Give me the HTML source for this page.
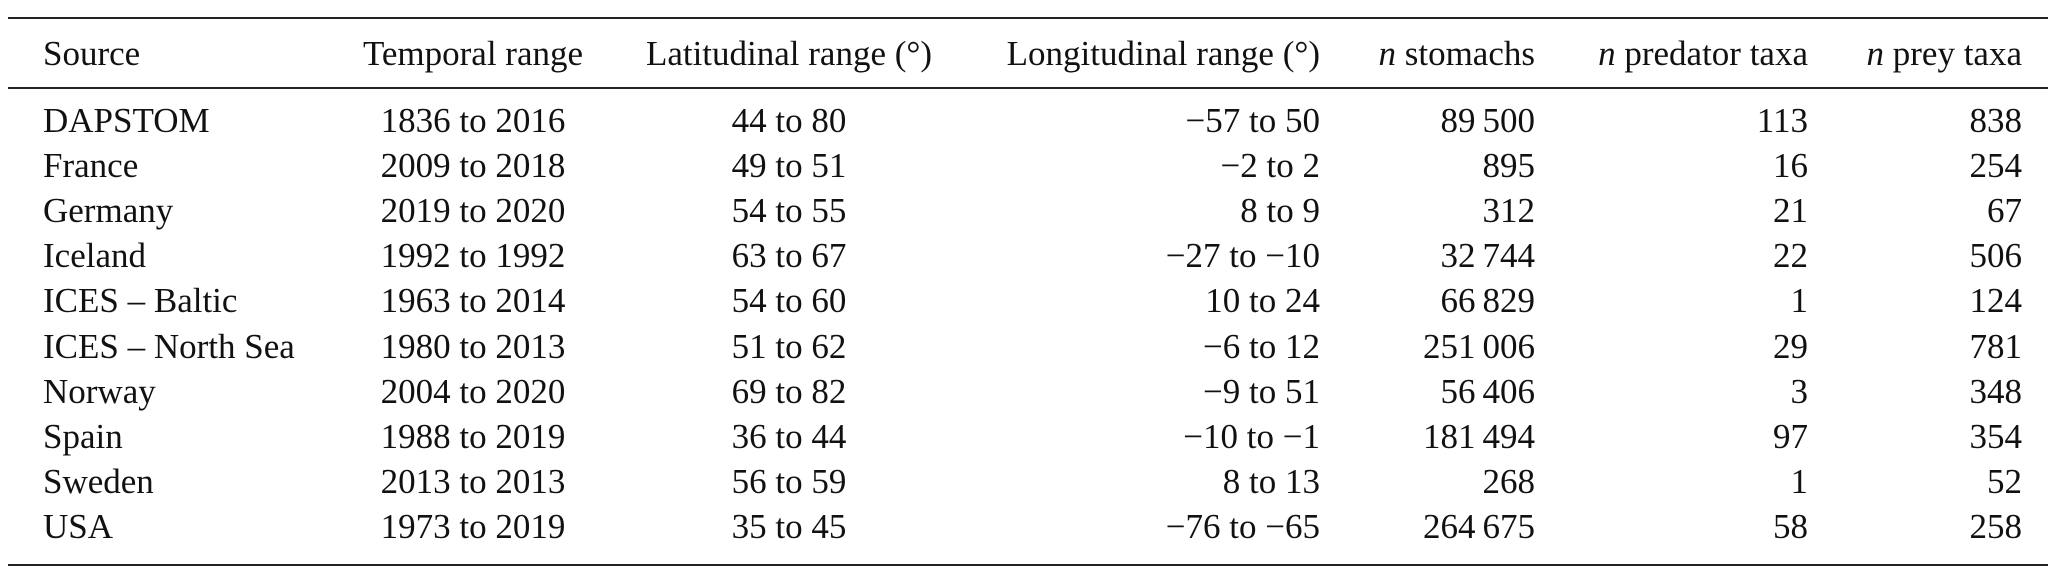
<!DOCTYPE html>
<html><head><meta charset="utf-8"><style>
body{margin:0;width:2067px;height:583px;background:#fff;position:relative;overflow:hidden;font-family:"Liberation Serif",serif;font-size:35px;color:#111}
.r{position:absolute;left:8px;width:2040px;background:#222}
.t{position:absolute;white-space:nowrap;line-height:1}
.c{transform:translateX(-50%)}
.rt{transform:translateX(-100%)}
</style></head><body>
<div class="r" style="top:17px;height:2px"></div>
<div class="r" style="top:87px;height:2px"></div>
<div class="r" style="top:564px;height:2px"></div>
<div id="h"></div>
<script>
const rows=[
["Source","Temporal range","Latitudinal range (°)","Longitudinal range (°)","<i>n</i> stomachs","<i>n</i> predator taxa","<i>n</i> prey taxa"],
["DAPSTOM","1836 to 2016","44 to 80","−57 to 50","89&#8201;500","113","838"],
["France","2009 to 2018","49 to 51","−2 to 2","895","16","254"],
["Germany","2019 to 2020","54 to 55","8 to 9","312","21","67"],
["Iceland","1992 to 1992","63 to 67","−27 to −10","32&#8201;744","22","506"],
["ICES – Baltic","1963 to 2014","54 to 60","10 to 24","66&#8201;829","1","124"],
["ICES – North Sea","1980 to 2013","51 to 62","−6 to 12","251&#8201;006","29","781"],
["Norway","2004 to 2020","69 to 82","−9 to 51","56&#8201;406","3","348"],
["Spain","1988 to 2019","36 to 44","−10 to −1","181&#8201;494","97","354"],
["Sweden","2013 to 2013","56 to 59","8 to 13","268","1","52"],
["USA","1973 to 2019","35 to 45","−76 to −65","264&#8201;675","58","258"]];
const cols=[[43,""],[473,"c"],[789,"c"],[1320,"rt"],[1535,"rt"],[1808,"rt"],[2022,"rt"]];
let h="";
rows.forEach((r,i)=>{const base=i==0?64:131+(i-1)*45.1;
r.forEach((s,j)=>{h+=`<div class="t ${cols[j][1]}" style="left:${cols[j][0]}px;top:${base-28}px">${s}</div>`;});});
document.getElementById("h").innerHTML=h;
</script>
</body></html>
